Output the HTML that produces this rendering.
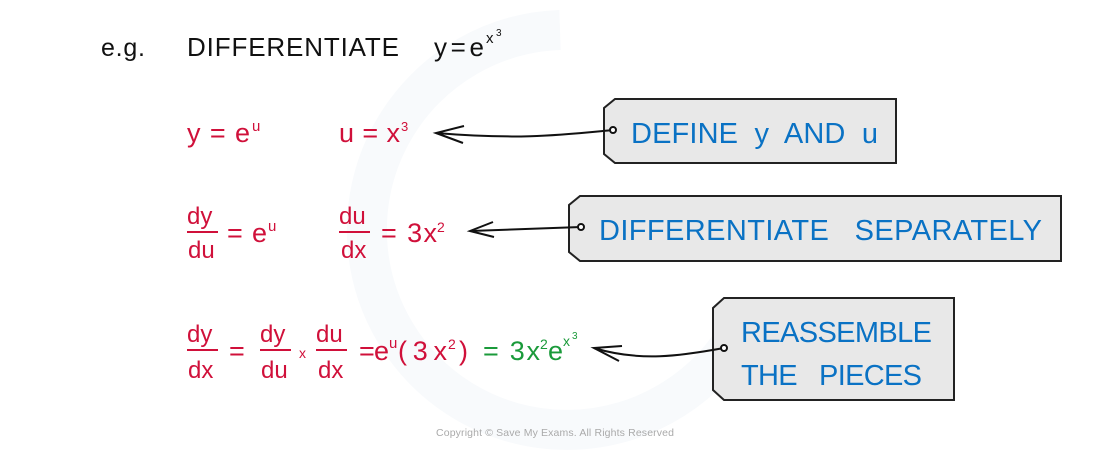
<!DOCTYPE html>
<html><head><meta charset="utf-8"><style>
html,body{margin:0;padding:0;background:#fff;}
svg{display:block;}
text{font-family:"Liberation Sans",sans-serif;}
.r{fill:#d0103a;font-size:27px;}
.rf{fill:#d0103a;font-size:24px;}
.b{fill:#0a72c4;font-size:29px;}
.g{fill:#1a9a3a;font-size:27px;}
</style></head><body>
<svg width="1100" height="455" viewBox="0 0 1100 455" xmlns="http://www.w3.org/2000/svg">
<rect width="1100" height="455" fill="#fff"/>
<path d="M560 30 A200 200 0 1 0 740 330" fill="none" stroke="#f8fafc" stroke-width="40"/>
<!-- header -->
<text x="101" y="56" font-size="25" fill="#111" textLength="44" lengthAdjust="spacing">e.g.</text>
<text x="187" y="56" font-size="26" fill="#111" textLength="212" lengthAdjust="spacing">DIFFERENTIATE</text>
<text x="434" y="56" font-size="26" fill="#111" textLength="50" lengthAdjust="spacing">y = e</text>
<text x="486" y="43" font-size="15" fill="#111">x</text>
<text x="496" y="36" font-size="10" fill="#111">3</text>
<!-- row1 -->
<text class="r" x="187" y="142" textLength="63" lengthAdjust="spacing">y = e</text>
<text x="252" y="131" font-size="15" fill="#d0103a">u</text>
<text class="r" x="339" y="142" textLength="61" lengthAdjust="spacing">u = x</text>
<text x="401" y="131" font-size="13" fill="#d0103a">3</text>
<!-- row2 -->
<text class="rf" x="187" y="224">dy</text>
<line x1="187" y1="232" x2="218" y2="232" stroke="#d0103a" stroke-width="2"/>
<text class="rf" x="188" y="258">du</text>
<text class="r" x="227" y="242" textLength="40" lengthAdjust="spacing">= e</text>
<text x="268" y="231" font-size="15" fill="#d0103a">u</text>
<text class="rf" x="339" y="224">du</text>
<line x1="339" y1="232" x2="370" y2="232" stroke="#d0103a" stroke-width="2"/>
<text class="rf" x="341" y="258">dx</text>
<text class="r" x="381" y="242" textLength="56" lengthAdjust="spacing">= 3x</text>
<text x="437" y="232" font-size="14" fill="#d0103a">2</text>
<!-- row3 -->
<text class="rf" x="187" y="342">dy</text>
<line x1="187" y1="350" x2="218" y2="350" stroke="#d0103a" stroke-width="2"/>
<text class="rf" x="188" y="378">dx</text>
<text class="r" x="229" y="360">=</text>
<text class="rf" x="260" y="342">dy</text>
<line x1="260" y1="350" x2="291" y2="350" stroke="#d0103a" stroke-width="2"/>
<text class="rf" x="261" y="378">du</text>
<text x="299" y="358" font-size="14" fill="#d0103a">x</text>
<text class="rf" x="316" y="342">du</text>
<line x1="316" y1="350" x2="347" y2="350" stroke="#d0103a" stroke-width="2"/>
<text class="rf" x="318" y="378">dx</text>
<text class="r" x="359" y="360">=</text>
<text class="r" x="374" y="360">e</text>
<text x="389" y="348" font-size="15" fill="#d0103a">u</text>
<text class="r" x="398" y="360" textLength="49" lengthAdjust="spacing">(3x</text>
<text x="448" y="349" font-size="14" fill="#d0103a">2</text>
<text class="r" x="459" y="360">)</text>
<text class="g" x="483" y="360" textLength="57" lengthAdjust="spacing">= 3x</text>
<text x="540" y="349" font-size="14" fill="#1a9a3a">2</text>
<text class="g" x="548" y="360">e</text>
<text x="563" y="346" font-size="14" fill="#1a9a3a">x</text>
<text x="572" y="339" font-size="10" fill="#1a9a3a">3</text>
<!-- boxes -->
<g fill="#e8e8e8" stroke="#222" stroke-width="2">
<polygon points="615,99 896,99 896,163 615,163 604,154 604,108"/>
<polygon points="580,196 1061,196 1061,261 580,261 569,252 569,205"/>
<polygon points="724,298 954,298 954,400 724,400 713,390 713,308"/>
</g>
<text class="b" x="631" y="143" textLength="247" lengthAdjust="spacing">DEFINE&#160; y&#160; AND&#160; u</text>
<text class="b" x="599" y="240" textLength="443" lengthAdjust="spacing">DIFFERENTIATE&#160;&#160; SEPARATELY</text>
<text class="b" x="741" y="342" textLength="191" lengthAdjust="spacing">REASSEMBLE</text>
<text class="b" x="741" y="385" textLength="181" lengthAdjust="spacing">THE&#160;&#160; PIECES</text>
<!-- connectors -->
<g fill="none" stroke="#111" stroke-width="2">
<path d="M436 133 C520 140 560 135 613 130"/>
<path d="M464 126 L436 133 L463 143"/>
<circle cx="613" cy="130" r="3" fill="#fff"/>
<path d="M470 231 L581 227"/>
<path d="M493 222 L470 231 L494 237"/>
<circle cx="581" cy="227" r="3" fill="#fff"/>
<path d="M594 348 C640 362 680 356 724 348"/>
<path d="M622 346 L594 348 L619 361"/>
<circle cx="724" cy="348" r="3" fill="#fff"/>
</g>
<text x="436" y="436" font-size="10.5" fill="#aaa" textLength="238" lengthAdjust="spacing">Copyright © Save My Exams. All Rights Reserved</text>
</svg>
</body></html>
